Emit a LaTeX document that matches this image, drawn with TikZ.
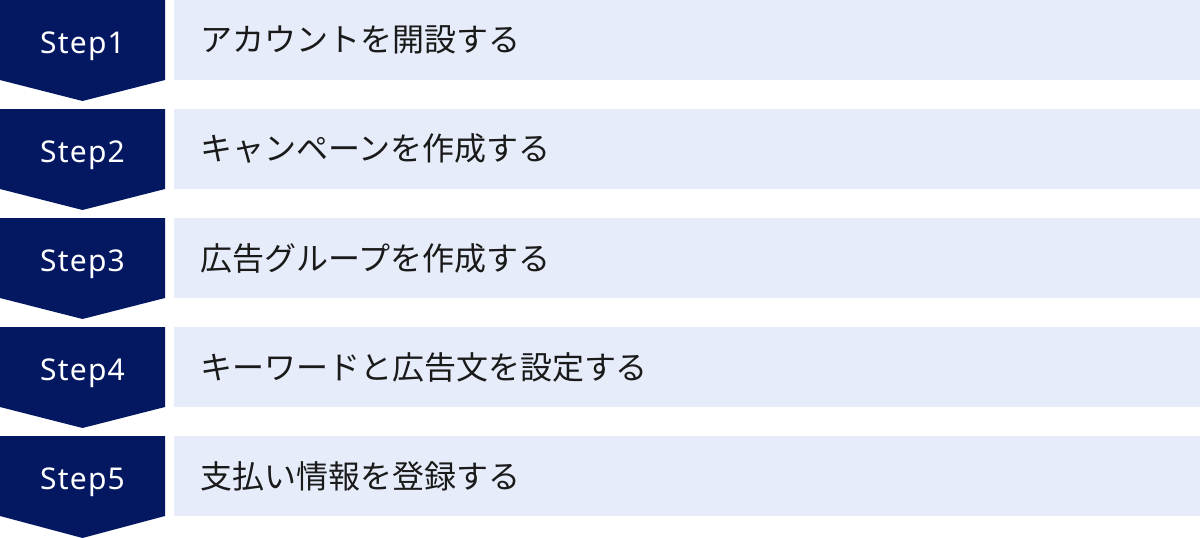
\documentclass[tikz,border=0pt]{standalone}
\usepackage{fontspec}
\setsansfont[LetterSpace=4]{Noto Sans}
\newfontfamily\jpfont{Noto Sans CJK JP}
\definecolor{stepnavy}{RGB}{4,24,98}
\definecolor{rowblue}{RGB}{230,236,249}
\definecolor{rowtext}{RGB}{26,26,26}

\begin{document}
\begin{tikzpicture}[x=1pt, y=-1pt,
		chevron/.style={fill=stepnavy},
		rowbox/.style={fill=rowblue, inner sep=0, minimum width=1026pt, minimum height=80pt},
		steplabel/.style={anchor=base, text=white, inner sep=0, font=\fontsize{30}{30}\selectfont\sffamily},
		rowlabel/.style={anchor=west, inner sep=0, text=rowtext, font=\fontsize{32}{32}\selectfont\jpfont}]
			\useasboundingbox (0, 0) rectangle (1200, 538);
			
			% step 1
			\fill[chevron] (0, 0) -- (165, 0) -- (165, 80) -- (82.5, 101) -- (0, 80) -- cycle;
			\node[steplabel] (step1) at (82.5, 53) {Step1};
			\node[rowbox] (box1) at (687, 40) {};
			\node[rowlabel] (text1) at ([xshift=26pt]box1.west) {アカウントを開設する};
			
			% step 2
			\fill[chevron] (0, 109) -- (165, 109) -- (165, 189) -- (82.5, 210) -- (0, 189) -- cycle;
			\node[steplabel] (step2) at (82.5, 162) {Step2};
			\node[rowbox] (box2) at (687, 149) {};
			\node[rowlabel] (text2) at ([xshift=26pt]box2.west) {キャンペーンを作成する};
			
			% step 3
			\fill[chevron] (0, 218) -- (165, 218) -- (165, 298) -- (82.5, 319) -- (0, 298) -- cycle;
			\node[steplabel] (step3) at (82.5, 271) {Step3};
			\node[rowbox] (box3) at (687, 258) {};
			\node[rowlabel] (text3) at ([xshift=26pt]box3.west) {広告グループを作成する};
			
			% step 4
			\fill[chevron] (0, 327) -- (165, 327) -- (165, 407) -- (82.5, 428) -- (0, 407) -- cycle;
			\node[steplabel] (step4) at (82.5, 380) {Step4};
			\node[rowbox] (box4) at (687, 367) {};
			\node[rowlabel] (text4) at ([xshift=26pt]box4.west) {キーワードと広告文を設定する};
			
			% step 5
			\fill[chevron] (0, 436) -- (165, 436) -- (165, 516) -- (82.5, 538) -- (0, 516) -- cycle;
			\node[steplabel] (step5) at (82.5, 489) {Step5};
			\node[rowbox] (box5) at (687, 476) {};
			\node[rowlabel] (text5) at ([xshift=26pt]box5.west) {支払い情報を登録する};
			
		\end{tikzpicture}
\end{document}
